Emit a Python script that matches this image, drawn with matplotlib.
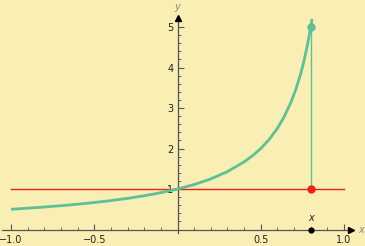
import matplotlib
matplotlib.use("Agg")
import matplotlib.pyplot as plt
import numpy as np
from matplotlib.ticker import FixedLocator

# curve values
curve_x = [-1.0, -0.9, -0.8, -0.7, -0.6, -0.5, -0.4, -0.3, -0.2, -0.1, 0.0,
           0.1, 0.2, 0.3, 0.4, 0.45, 0.5, 0.55, 0.6, 0.64, 0.68, 0.71, 0.74,
           0.76, 0.78, 0.8, 0.808]
curve_y = [0.50, 0.526, 0.556, 0.588, 0.625, 0.667, 0.714, 0.769, 0.833, 0.909, 1.0,
           1.11, 1.25, 1.43, 1.67, 1.82, 2.0, 2.22, 2.5, 2.78, 3.13, 3.45, 3.85,
           4.17, 4.55, 5.0, 5.2]

x0 = 0.8
fx0 = 5.0
level = 1.0
level_range = [-1.0, 1.0]

x_ticks = [-1.0, -0.5, 0.5, 1.0]
x_labels = ["\u22121.0", "\u22120.5", "0.5", "1.0"]
y_ticks = [1, 2, 3, 4, 5]

bg = "#f9eeb3"
teal = "#5ec096"
red = "#e8241c"
axcol = "#555555"

fig = plt.figure(figsize=(3.65, 2.46), dpi=100, facecolor=bg)
ax = fig.add_axes([0, 0, 1, 1], facecolor=bg)
ax.set_xlim(-1.066, 1.126)
ax.set_ylim(-0.407, 5.667)

ax.plot(level_range, [level, level], color=red, lw=1.0, zorder=2)
ax.plot(curve_x, curve_y, color=teal, lw=2.0, zorder=3, solid_capstyle="butt")
ax.plot([x0, x0], [level, fx0], color=teal, lw=1.0, zorder=3)
ax.plot([x0], [fx0], "o", color=teal, ms=5, zorder=4)
ax.plot([x0], [level], "o", color=red, ms=5, zorder=4)
ax.plot([x0], [0], "o", color="black", ms=3.5, zorder=4, clip_on=False)
ax.text(x0, 0.17, "x", style="italic", fontsize=7, ha="center", va="bottom", color="#222222")

for s in ["top", "right"]:
    ax.spines[s].set_visible(False)
ax.spines["left"].set_position(("data", 0))
ax.spines["bottom"].set_position(("data", 0))
ax.spines["left"].set_bounds(-0.09, 5.2)
ax.spines["bottom"].set_bounds(-1.054, 1.03)
for s in ["left", "bottom"]:
    ax.spines[s].set_color(axcol)
    ax.spines[s].set_linewidth(0.9)

ax.plot([1.04], [0], marker=">", color="black", ms=5, clip_on=False, zorder=5)
ax.plot([0], [5.22], marker="^", color="black", ms=5, clip_on=False, zorder=5)

ax.xaxis.set_major_locator(FixedLocator(x_ticks))
ax.set_xticklabels(x_labels)
ax.xaxis.set_minor_locator(FixedLocator(np.arange(-1.0, 1.01, 0.1)))
ax.yaxis.set_major_locator(FixedLocator(y_ticks))
ax.yaxis.set_minor_locator(FixedLocator(np.arange(0.2, 5.01, 0.2)))
ax.tick_params(which="both", direction="in", color=axcol, labelsize=7, labelcolor="#222222")
ax.tick_params(which="major", length=4, width=0.8, pad=3)
ax.tick_params(which="minor", length=2.5, width=0.6)
ax.tick_params(axis="x", which="major", pad=4)

ax.text(1.1, 0, "x", style="italic", fontsize=7, color="#888888", ha="center", va="center")
ax.text(-0.005, 5.5, "y", style="italic", fontsize=7, color="#888888", ha="center", va="center")

fig.savefig("out.png", dpi=100, facecolor=bg)
